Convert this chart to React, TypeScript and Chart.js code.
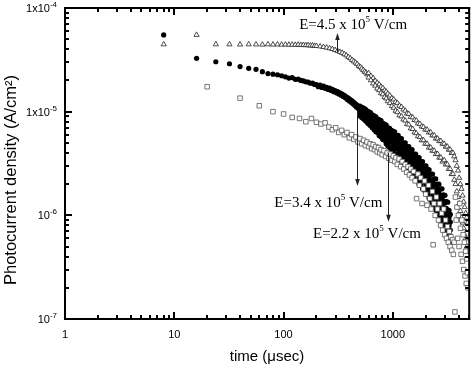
import React, { useEffect, useRef } from 'react';
import { Chart, registerables } from 'chart.js';

Chart.register(...registerables);

// ---------- data (time in µs, current density in units of 1e-6 A/cm²) ----------
// E = 4.5 x 10^5 V/cm (open triangles)
const triTime = [8, 16, 24, 32, 40, 48, 56, 64, 72, 80, 88, 96, 104, 112, 120, 128, 136, 144, 152, 160, 168, 176, 184, 192, 200,
  216, 232, 248, 264, 280, 296, 312, 328, 344, 360, 376, 392, 408, 424, 440, 456, 472, 488, 504, 520, 536, 552, 568, 584];
const triVal = [44.6, 55.0, 44.6, 44.6, 44.4, 44.6, 44.5, 44.3, 44.6, 44.4, 44.5, 44.3, 44.4, 44.2, 44.3, 44.1, 44.2, 43.9, 44.0, 43.7, 43.8, 43.4, 43.5, 43.1, 43.0,
  42.6, 42.0, 41.5, 40.9, 40.2, 39.3, 38.6, 37.6, 36.9, 35.8, 34.9, 33.6, 32.7, 31.5, 30.6, 29.7, 28.8, 27.6, 27.0, 26.1, 25.2, 24.3, 23.8, 22.9];
const triTailTime = [600, 630, 660, 690, 720, 750, 780, 810, 840, 870, 900, 940, 980, 1020, 1060, 1100, 1150, 1200, 1250, 1300,
  1350, 1400, 1460, 1520, 1580, 1640, 1700, 1770, 1840, 1910, 1980, 2060, 2140, 2220, 2300, 2390, 2480, 2570, 2660, 2750,
  2850, 2950, 3050, 3150, 3250, 3350, 3450, 3550, 3650, 3750, 3850, 3950, 4050, 4150, 4250, 4350, 4450, 4550, 4650, 4750, 4850];
const triTailHigh = [23.5, 22.1, 21.1, 19.8, 19.0, 18.3, 17.4, 16.9, 16.0, 15.6, 14.9, 14.3, 13.5, 13.1, 12.4, 12.1, 11.4, 11.1, 10.5, 10.2,
  9.6, 9.5, 8.9, 8.8, 8.3, 8.2, 7.7, 7.6, 7.2, 7.1, 6.7, 6.7, 6.3, 6.3, 5.9, 5.9, 5.5, 5.5, 5.2, 5.2,
  4.9, 4.9, 4.6, 4.6, 4.3, 4.3, 4.0, 4.0, 3.7, 3.4, 3.0, 2.7, 2.3, 2.0, 1.8, 1.55, 1.35, 1.2, 1.05, 0.95, 0.85];
const triTailLow = [21.3, 20.1, 18.7, 17.8, 16.7, 16.1, 15.1, 14.7, 13.8, 13.4, 12.6, 12.1, 11.3, 10.9, 10.2, 9.9, 9.2, 9.0, 8.4, 8.2,
  7.6, 7.5, 6.9, 6.8, 6.3, 6.2, 5.8, 5.7, 5.3, 5.3, 4.9, 4.9, 4.5, 4.5, 4.2, 4.2, 3.9, 3.9, 3.6, 3.6,
  3.3, 3.4, 3.1, 3.1, 2.8, 2.8, 2.5, 2.5, 2.2, 2.0, 1.7, 1.5, 1.3, 1.1, 0.95, 0.85, 0.75, 0.65, 0.6, 0.5, 0.45];

// E = 3.4 x 10^5 V/cm (filled circles)
const cirTime = [8, 16, 24, 32, 40, 48, 56, 64, 72, 80, 88, 96, 104, 112, 120, 128, 136, 144, 152, 160, 168, 176, 184, 192,
  200, 208, 216, 224, 232, 240, 248, 256, 264, 272, 280, 288, 296, 304, 312, 320, 328, 336, 344, 352, 360, 368, 376, 384,
  392, 400, 408, 416, 424, 432, 440, 448, 456, 464, 472, 480, 488, 496];
const cirVal = [55.0, 32.7, 30.3, 29.0, 27.2, 26.2, 25.6, 24.3, 23.3, 23.0, 22.7, 22.2, 21.7, 21.1, 21.3, 20.5, 20.6, 20.0, 19.8, 19.4, 19.3, 18.8, 18.9, 18.3,
  18.2, 17.4, 18.0, 17.1, 17.6, 16.8, 17.2, 16.4, 16.9, 16.0, 16.4, 15.6, 16.0, 15.2, 15.6, 14.8, 15.2, 14.4, 14.8, 14.0, 14.4, 13.6, 13.9, 13.1,
  13.5, 12.7, 13.1, 12.3, 12.7, 11.9, 12.3, 11.5, 11.9, 11.1, 11.5, 10.8, 11.1, 10.4];
const cirTailTime = [500, 520, 540, 560, 580, 600, 625, 650, 675, 700, 725, 750, 780, 810, 840, 870, 900, 935, 970, 1000,
  1040, 1080, 1120, 1160, 1200, 1250, 1300, 1350, 1400, 1450, 1500, 1560, 1620, 1680, 1740, 1800, 1870, 1940, 2010, 2080,
  2150, 2230, 2310, 2390, 2470, 2550, 2640, 2730, 2820, 2910, 3000, 3090, 3180, 3270, 3360];
const cirTailHigh = [11.3, 11.0, 10.8, 10.6, 10.2, 10.0, 9.8, 9.3, 9.1, 8.9, 8.5, 8.4, 8.2, 7.7, 7.6, 7.4, 7.0, 6.9, 6.6, 6.5,
  6.4, 5.9, 5.9, 5.5, 5.5, 5.0, 5.0, 4.6, 4.6, 4.2, 4.3, 3.9, 3.9, 3.6, 3.6, 3.3, 3.3, 3.0, 3.0, 2.8,
  2.75, 2.5, 2.5, 2.25, 2.25, 2.0, 2.0, 1.8, 1.8, 1.58, 1.56, 1.36, 1.34, 1.12, 1.02];
const cirTailUpper = [10.7, 10.5, 10.2, 10.0, 9.8, 9.3, 9.2, 8.7, 8.5, 8.2, 7.9, 7.8, 7.5, 7.2, 6.9, 6.8, 6.4, 6.3, 6.0, 5.9,
  5.8, 5.4, 5.3, 5.0, 4.9, 4.6, 4.4, 4.2, 4.1, 3.8, 3.75, 3.55, 3.4, 3.25, 3.2, 3.0, 2.9, 2.7, 2.6, 2.5,
  2.4, 2.2, 2.15, 2.0, 1.95, 1.78, 1.7, 1.57, 1.5, 1.38, 1.32, 1.17, 1.1, 0.95, 0.86];
const cirTailMid = [10.3, 9.9, 9.8, 9.3, 9.2, 8.8, 8.6, 8.1, 7.9, 7.7, 7.3, 7.2, 6.9, 6.7, 6.3, 6.2, 5.9, 5.8, 5.5, 5.4,
  5.2, 4.9, 4.8, 4.5, 4.4, 4.2, 3.9, 3.8, 3.6, 3.4, 3.3, 3.2, 3.0, 2.9, 2.8, 2.65, 2.5, 2.4, 2.3, 2.2,
  2.05, 1.95, 1.8, 1.75, 1.65, 1.55, 1.45, 1.35, 1.25, 1.2, 1.1, 1.0, 0.9, 0.8, 0.72];
const cirTailLower = [9.8, 9.4, 9.3, 8.8, 8.7, 8.4, 8.0, 7.7, 7.4, 7.2, 6.8, 6.6, 6.4, 6.1, 5.9, 5.6, 5.4, 5.2, 5.1, 4.9,
  4.6, 4.4, 4.3, 4.0, 3.9, 3.7, 3.5, 3.35, 3.15, 3.05, 2.9, 2.8, 2.6, 2.5, 2.4, 2.3, 2.15, 2.1, 1.97, 1.9,
  1.75, 1.68, 1.55, 1.5, 1.4, 1.3, 1.22, 1.13, 1.05, 1.0, 0.92, 0.84, 0.76, 0.68, 0.62];
const cirTailLow = [9.1, 8.8, 8.5, 8.2, 7.9, 7.6, 7.3, 7.0, 6.7, 6.4, 6.3, 5.9, 5.7, 5.4, 5.3, 4.9, 4.7, 4.5, 4.4, 4.2,
  3.95, 3.85, 3.6, 3.5, 3.3, 3.2, 2.95, 2.85, 2.7, 2.6, 2.45, 2.4, 2.2, 2.15, 2.0, 1.95, 1.8, 1.75, 1.64, 1.58,
  1.46, 1.4, 1.3, 1.24, 1.13, 1.07, 1.0, 0.93, 0.86, 0.81, 0.74, 0.68, 0.62, 0.57, 0.54];

// E = 2.2 x 10^5 V/cm (open squares)
const sqTime = [20, 40, 60, 80, 100, 120, 140, 160, 180, 200, 220, 240, 260, 280, 300, 320, 340, 360, 380, 400, 420, 440, 460, 480,
  500, 520, 540, 560, 580, 600, 620, 640, 660, 680, 700, 720, 740, 760, 780, 800, 830, 860, 890, 920, 950, 980, 1010, 1040,
  1070, 1100, 1140, 1180, 1220, 1260, 1300, 1340, 1380, 1420, 1460, 1500, 1550, 1600, 1650, 1700, 1750, 1800, 1850, 1900,
  1950, 2000, 2060, 2120, 2180, 2240, 2300, 2340, 2380, 2440, 2500, 2560, 2620, 2680, 2740, 2800, 2860, 2920, 2980, 3040,
  3100, 3160, 3220, 3280, 3340, 3400, 3460, 3520, 3580, 3640, 3700, 3740, 3800, 3860, 3920, 3980, 4040, 4100, 4160, 4220,
  4280, 4340, 4400, 4460, 4520, 4580, 4640, 4700, 4760, 4820, 4880];
const sqVal = [17.4, 13.5, 11.4, 10.0, 9.5, 8.8, 8.6, 8.0, 8.6, 7.9, 7.6, 7.8, 7.1, 6.7, 7.0, 6.3, 6.6, 6.0, 6.3, 5.6, 6.0, 5.4, 5.7, 5.1,
  5.5, 4.9, 5.3, 4.7, 5.1, 4.6, 4.9, 4.4, 4.8, 4.3, 4.6, 4.1, 4.5, 4.0, 4.3, 3.85, 4.2, 3.7, 4.0, 3.55, 3.9, 3.4, 3.75, 3.3,
  3.6, 3.1, 3.5, 2.95, 3.3, 2.8, 3.1, 2.6, 2.95, 2.45, 2.8, 2.3, 2.65, 2.15, 1.45, 2.5, 1.95, 2.3, 1.3, 1.8,
  2.15, 1.6, 1.25, 1.95, 1.45, 1.15, 1.7, 0.52, 1.3, 1.0, 1.5, 1.15, 0.9, 1.3, 0.8, 1.05, 0.72, 1.15, 0.65, 0.9,
  0.6, 0.78, 0.55, 0.7, 0.5, 0.62, 0.46, 0.58, 0.42, 0.55, 0.117, 1.5, 0.9, 1.2, 0.6, 1.0, 0.5, 1.3, 0.75, 0.42,
  0.9, 0.36, 0.65, 0.3, 0.55, 0.26, 0.45, 0.22, 0.38, 0.28, 0.2];

const valueUnit = 1e-6;

const xRange = [1, 5000];
const yRange = [1e-7, 1e-4];
const xMajorTicks = [1, 10, 100, 1000];
const xTickLabels = ['1', '10', '100', '1000'];
const yMajorTicks = [1e-4, 1e-5, 1e-6, 1e-7];
const yTickBase = ['1x10', '1x10', '10', '10'];
const yTickExp = ['-4', '-5', '-6', '-7'];

const xTitle = 'time (\u03bcsec)';
const yTitle = 'Photocurrent density (A/cm\u00b2)';

// annotations: label anchor and arrow in data coordinates
const annotations = [
  { base: 'E=4.5 x 10', exp: '5', tail: ' V/cm', at: [433, 7.0e-5], arrowX: 310, arrowFrom: 3.76e-5, arrowTo: 5.74e-5 },
  { base: 'E=3.4 x 10', exp: '5', tail: ' V/cm', at: [257, 1.345e-6], arrowX: 471, arrowFrom: 9.9e-6, arrowTo: 1.92e-6 },
  { base: 'E=2.2 x 10', exp: '5', tail: ' V/cm', at: [580, 6.68e-7], arrowX: 900, arrowFrom: 3.99e-6, arrowTo: 8.68e-7 },
];

const SANS = '"Liberation Sans", Arial, sans-serif';
const SERIF = '"Liberation Serif", "Times New Roman", serif';

function toPoints(ts: number[], vs: number[]) {
  return ts.map((t, i) => ({ x: t, y: vs[i] * valueUnit }));
}

function drawSup(ctx: CanvasRenderingContext2D, base: string, exp: string, tail: string, x: number, y: number,
  align: 'left' | 'center' | 'right', font: string, supFont: string, rise: number) {
  ctx.font = font;
  const w1 = ctx.measureText(base).width;
  const w3 = ctx.measureText(tail).width;
  ctx.font = supFont;
  const w2 = ctx.measureText(exp).width;
  const total = w1 + w2 + w3;
  let sx = x;
  if (align === 'center') sx = x - total / 2;
  else if (align === 'right') sx = x - total;
  ctx.textAlign = 'left';
  ctx.textBaseline = 'alphabetic';
  ctx.font = font;
  ctx.fillText(base, sx, y);
  ctx.font = supFont;
  ctx.fillText(exp, sx + w1, y - rise);
  ctx.font = font;
  ctx.fillText(tail, sx + w1 + w2, y);
}

const framePlugin = {
  id: 'framePlugin',
  afterDraw(chart: any) {
    const ctx: CanvasRenderingContext2D = chart.ctx;
    const xs = chart.scales.x;
    const ys = chart.scales.y;
    const { left, right, top, bottom } = chart.chartArea;
    ctx.save();
    ctx.globalAlpha = 1;
    ctx.setLineDash([]);
    ctx.fillStyle = '#000';

    // ticks (inward, all four sides), 2px wide
    const majorLen = 7;
    const minorLen = 4;
    for (let e = 0; e <= 3; e++) {
      const d = Math.pow(10, e);
      for (let k = 1; k <= 9; k++) {
        const v = d * k;
        if (v < xRange[0] || v > xRange[1]) continue;
        const px = Math.round(xs.getPixelForValue(v)) - 1;
        const len = k === 1 ? majorLen : minorLen;
        ctx.fillRect(px, bottom - len, 2, len);
        ctx.fillRect(px, top, 2, len);
      }
    }
    for (let e = -7; e <= -4; e++) {
      const d = Math.pow(10, e);
      for (let k = 1; k <= 9; k++) {
        if (e === -4 && k > 1) continue;
        const v = d * k;
        const py = Math.round(ys.getPixelForValue(v)) - 1;
        const len = k === 1 ? majorLen : minorLen;
        ctx.fillRect(left, py, len, 2);
        ctx.fillRect(right - len, py, len, 2);
      }
    }

    // frame
    ctx.fillRect(left - 1, top - 1, right - left + 2, 2);
    ctx.fillRect(left - 1, bottom - 1, right - left + 2, 2);
    ctx.fillRect(left - 1, top - 1, 2, bottom - top + 2);
    ctx.fillRect(right - 1, top - 1, 2, bottom - top + 2);

    // x tick labels
    ctx.font = `11px ${SANS}`;
    ctx.textAlign = 'center';
    ctx.textBaseline = 'alphabetic';
    xMajorTicks.forEach((v, i) => {
      ctx.fillText(xTickLabels[i], xs.getPixelForValue(v), bottom + 19);
    });

    // y tick labels
    yMajorTicks.forEach((v, i) => {
      const py = ys.getPixelForValue(v);
      drawSup(ctx, yTickBase[i], yTickExp[i], '', left - 8, py + 4, 'right', `11px ${SANS}`, `8px ${SANS}`, 5);
    });

    // axis titles
    ctx.font = `15px ${SANS}`;
    ctx.textAlign = 'center';
    ctx.textBaseline = 'alphabetic';
    ctx.fillText(xTitle, (left + right) / 2, bottom + 42);
    ctx.save();
    ctx.font = `16.5px ${SANS}`;
    ctx.translate(16, 180);
    ctx.rotate(-Math.PI / 2);
    ctx.fillText(yTitle, 0, 0);
    ctx.restore();

    // annotations
    annotations.forEach((a) => {
      const lx = xs.getPixelForValue(a.at[0]);
      const ly = ys.getPixelForValue(a.at[1]);
      ctx.fillStyle = '#000';
      drawSup(ctx, a.base, a.exp, a.tail, lx, ly + 5, 'center', `15px ${SERIF}`, `9px ${SERIF}`, 7);
      const ax = Math.round(xs.getPixelForValue(a.arrowX));
      const y0 = ys.getPixelForValue(a.arrowFrom);
      const y1 = ys.getPixelForValue(a.arrowTo);
      const dir = y1 > y0 ? 1 : -1;
      ctx.fillStyle = '#222';
      const ya = Math.min(y0, y1 - dir * 5);
      const yb = Math.max(y0, y1 - dir * 5);
      ctx.fillRect(ax, ya, 1, yb - ya);
      ctx.beginPath();
      ctx.moveTo(ax + 0.5, y1);
      ctx.lineTo(ax + 0.5 - 2.3, y1 - dir * 7);
      ctx.lineTo(ax + 0.5 + 2.3, y1 - dir * 7);
      ctx.closePath();
      ctx.fill();
    });
    ctx.restore();
  },
};

export default function App() {
  const canvasRef = useRef<HTMLCanvasElement | null>(null);

  useEffect(() => {
    document.body.style.margin = '0';
    const canvas = canvasRef.current;
    if (!canvas) return;
    const sqPts = toPoints(sqTime, sqVal);
    const triPts = toPoints(triTime, triVal)
      .concat(toPoints(triTailTime, triTailHigh))
      .concat(toPoints(triTailTime, triTailLow));
    const cirPts = toPoints(cirTime, cirVal)
      .concat(toPoints(cirTailTime, cirTailHigh))
      .concat(toPoints(cirTailTime, cirTailUpper))
      .concat(toPoints(cirTailTime, cirTailMid))
      .concat(toPoints(cirTailTime, cirTailLower))
      .concat(toPoints(cirTailTime, cirTailLow));
    const chart = new Chart(canvas, {
      type: 'scatter',
      data: {
        datasets: [
          {
            label: 'E=2.2',
            data: sqPts,
            pointStyle: 'rect',
            pointRadius: 3.2,
            backgroundColor: '#fff',
            borderColor: '#555',
            borderWidth: 0.8,
            order: 0,
          },
          {
            label: 'E=4.5',
            data: triPts,
            pointStyle: 'triangle',
            pointRadius: 3.0,
            backgroundColor: '#fff',
            borderColor: '#222',
            borderWidth: 0.8,
            order: 1,
          },
          {
            label: 'E=3.4',
            data: cirPts,
            pointStyle: 'circle',
            pointRadius: 2.6,
            backgroundColor: '#000',
            borderColor: '#000',
            borderWidth: 0,
            order: 2,
          },
        ],
      },
      options: {
        animation: false,
        responsive: false,
        events: [],
        layout: { padding: { left: 65, top: 8, right: 2, bottom: 47 } },
        plugins: { legend: { display: false }, tooltip: { enabled: false } },
        scales: {
          x: { type: 'logarithmic', min: xRange[0], max: xRange[1], display: false },
          y: { type: 'logarithmic', min: yRange[0], max: yRange[1], display: false },
        },
      },
      plugins: [framePlugin],
    });
    return () => chart.destroy();
  }, []);

  return (
    <div style={{ position: 'absolute', left: 0, top: 0, width: 474, height: 366, background: '#fff' }}>
      <canvas ref={canvasRef} width={474} height={366} style={{ display: 'block' }} />
    </div>
  );
}
